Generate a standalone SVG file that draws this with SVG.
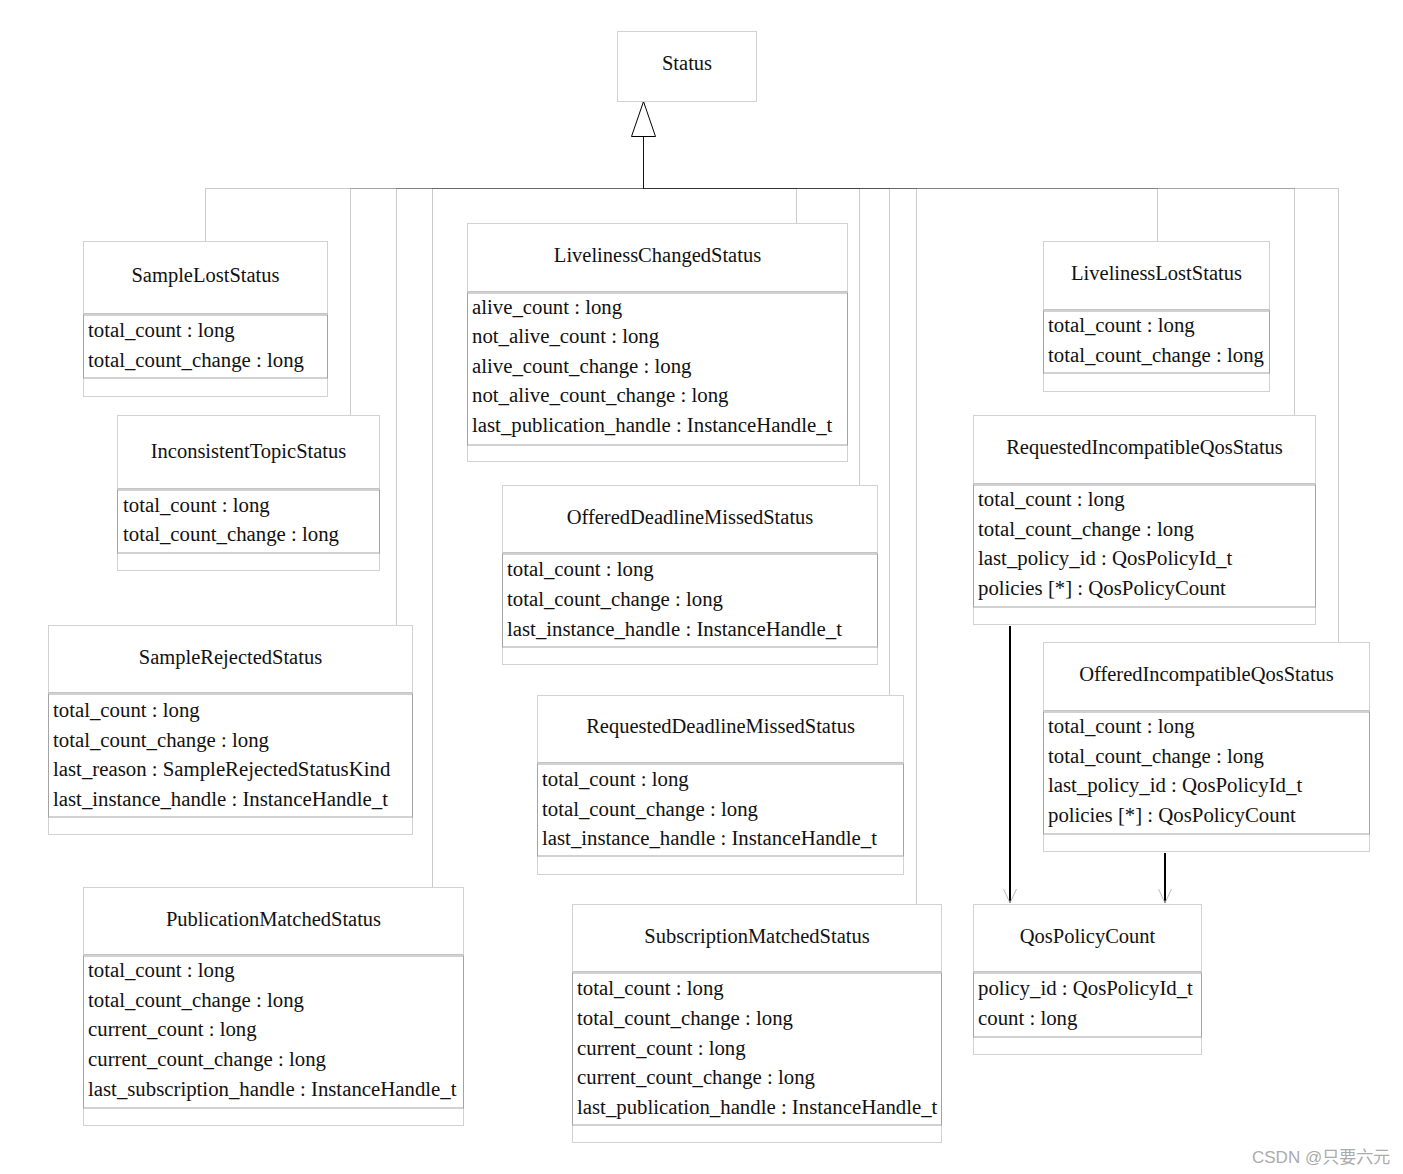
<svg xmlns="http://www.w3.org/2000/svg" width="1403" height="1174" viewBox="0 0 1403 1174">
<style>
.bg{fill:#fff}
.outer{fill:#fff;stroke:#d2d2d2;stroke-width:1}
.hdr{stroke:#c4c4c4;stroke-width:1.2}
.attr{fill:none;stroke:#a4a4a4;stroke-width:1}
.t{font-family:"Liberation Serif","Times New Roman",serif;font-size:20.5px;fill:#111;text-anchor:middle}
.a{font-family:"Liberation Serif","Times New Roman",serif;font-size:20.8px;fill:#111}
.gen{fill:none;stroke:#000;stroke-opacity:0.2;stroke-width:1}
.assoc{fill:none;stroke:#000;stroke-width:2}
.head{fill:none;stroke:#bbb;stroke-width:1}
.wm{font-family:"Liberation Sans","Noto Sans CJK SC",sans-serif;font-size:17px;fill:#ababab}
</style>
<rect class="bg" x="0" y="0" width="1403" height="1174"/>

<g id="connectors">
  <path class="gen" d="M205.5,241 V188.5 H643.5 V137"/>
  <path class="gen" d="M350.5,415 V188.5 H643.5 V137"/>
  <path class="gen" d="M396.5,625 V188.5 H643.5 V137"/>
  <path class="gen" d="M432.5,887 V188.5 H643.5 V137"/>
  <path class="gen" d="M796.5,223 V188.5 H643.5 V137"/>
  <path class="gen" d="M859.5,485 V188.5 H643.5 V137"/>
  <path class="gen" d="M889.5,695 V188.5 H643.5 V137"/>
  <path class="gen" d="M916.5,904 V188.5 H643.5 V137"/>
  <path class="gen" d="M1157.5,241 V188.5 H643.5 V137"/>
  <path class="gen" d="M1294.5,415 V188.5 H643.5 V137"/>
  <path class="gen" d="M1338.5,642 V188.5 H643.5 V137"/>
  <polygon points="643.5,101.5 631.5,136.5 655.5,136.5" fill="#fff" stroke="#000" stroke-width="1"/>
  <line class="assoc" x1="1010" y1="626" x2="1010" y2="903"/>
  <polyline class="head" points="1003.5,889 1010,903 1016.5,889"/>
  <line class="assoc" x1="1165" y1="853" x2="1165" y2="903"/>
  <polyline class="head" points="1158.5,889 1165,903 1171.5,889"/>
</g>

<g id="Status">
  <rect class="outer" x="617.5" y="31.5" width="139" height="70"/>
  <text class="t" x="687" y="70">Status</text>
</g>

<g id="SampleLostStatus">
  <rect class="outer" x="83.5" y="241.5" width="244" height="155"/>
  <line class="hdr" x1="83.5" y1="313.5" x2="327.5" y2="313.5"/>
  <rect class="attr" x="83.5" y="315" width="244" height="63"/>
  <text class="t" x="205.5" y="282">SampleLostStatus</text>
  <text class="a" x="88" y="337">total_count : long</text>
  <text class="a" x="88" y="367">total_count_change : long</text>
</g>

<g id="InconsistentTopicStatus">
  <rect class="outer" x="117.5" y="415.5" width="262" height="155"/>
  <line class="hdr" x1="117.5" y1="488.5" x2="379.5" y2="488.5"/>
  <rect class="attr" x="117.5" y="490" width="262" height="63"/>
  <text class="t" x="248.5" y="458">InconsistentTopicStatus</text>
  <text class="a" x="123" y="512">total_count : long</text>
  <text class="a" x="123" y="541">total_count_change : long</text>
</g>

<g id="SampleRejectedStatus">
  <rect class="outer" x="48.5" y="625.5" width="364" height="209"/>
  <line class="hdr" x1="48.5" y1="692.5" x2="412.5" y2="692.5"/>
  <rect class="attr" x="48.5" y="694" width="364" height="123"/>
  <text class="t" x="230.5" y="664">SampleRejectedStatus</text>
  <text class="a" x="53" y="717">total_count : long</text>
  <text class="a" x="53" y="746.5">total_count_change : long</text>
  <text class="a" x="53" y="776">last_reason : SampleRejectedStatusKind</text>
  <text class="a" x="53" y="805.5">last_instance_handle : InstanceHandle_t</text>
</g>

<g id="PublicationMatchedStatus">
  <rect class="outer" x="83.5" y="887.5" width="380" height="238"/>
  <line class="hdr" x1="83.5" y1="954.5" x2="463.5" y2="954.5"/>
  <rect class="attr" x="83.5" y="956" width="380" height="152"/>
  <text class="t" x="273.5" y="926">PublicationMatchedStatus</text>
  <text class="a" x="88" y="977">total_count : long</text>
  <text class="a" x="88" y="1006.5">total_count_change : long</text>
  <text class="a" x="88" y="1036">current_count : long</text>
  <text class="a" x="88" y="1065.5">current_count_change : long</text>
  <text class="a" x="88" y="1095.5">last_subscription_handle : InstanceHandle_t</text>
</g>

<g id="LivelinessChangedStatus">
  <rect class="outer" x="467.5" y="223.5" width="380" height="238"/>
  <line class="hdr" x1="467.5" y1="291.5" x2="847.5" y2="291.5"/>
  <rect class="attr" x="467.5" y="293" width="380" height="152"/>
  <text class="t" x="657.5" y="262">LivelinessChangedStatus</text>
  <text class="a" x="472" y="313.5">alive_count : long</text>
  <text class="a" x="472" y="343">not_alive_count : long</text>
  <text class="a" x="472" y="372.5">alive_count_change : long</text>
  <text class="a" x="472" y="402">not_alive_count_change : long</text>
  <text class="a" x="472" y="431.5">last_publication_handle : InstanceHandle_t</text>
</g>

<g id="OfferedDeadlineMissedStatus">
  <rect class="outer" x="502.5" y="485.5" width="375" height="179"/>
  <line class="hdr" x1="502.5" y1="552.5" x2="877.5" y2="552.5"/>
  <rect class="attr" x="502.5" y="554" width="375" height="93"/>
  <text class="t" x="690" y="524">OfferedDeadlineMissedStatus</text>
  <text class="a" x="507" y="576">total_count : long</text>
  <text class="a" x="507" y="606">total_count_change : long</text>
  <text class="a" x="507" y="635.5">last_instance_handle : InstanceHandle_t</text>
</g>

<g id="RequestedDeadlineMissedStatus">
  <rect class="outer" x="537.5" y="695.5" width="366" height="179"/>
  <line class="hdr" x1="537.5" y1="762.5" x2="903.5" y2="762.5"/>
  <rect class="attr" x="537.5" y="764" width="366" height="92"/>
  <text class="t" x="720.5" y="733">RequestedDeadlineMissedStatus</text>
  <text class="a" x="542" y="786">total_count : long</text>
  <text class="a" x="542" y="815.5">total_count_change : long</text>
  <text class="a" x="542" y="845">last_instance_handle : InstanceHandle_t</text>
</g>

<g id="SubscriptionMatchedStatus">
  <rect class="outer" x="572.5" y="904.5" width="369" height="238"/>
  <line class="hdr" x1="572.5" y1="971.5" x2="941.5" y2="971.5"/>
  <rect class="attr" x="572.5" y="973" width="369" height="152"/>
  <text class="t" x="757" y="943">SubscriptionMatchedStatus</text>
  <text class="a" x="577" y="995">total_count : long</text>
  <text class="a" x="577" y="1025">total_count_change : long</text>
  <text class="a" x="577" y="1054.5">current_count : long</text>
  <text class="a" x="577" y="1084">current_count_change : long</text>
  <text class="a" x="577" y="1114">last_publication_handle : InstanceHandle_t</text>
</g>

<g id="LivelinessLostStatus">
  <rect class="outer" x="1043.5" y="241.5" width="226" height="150"/>
  <line class="hdr" x1="1043.5" y1="309.5" x2="1269.5" y2="309.5"/>
  <rect class="attr" x="1043.5" y="311" width="226" height="62"/>
  <text class="t" x="1156.5" y="280">LivelinessLostStatus</text>
  <text class="a" x="1048" y="332">total_count : long</text>
  <text class="a" x="1048" y="361.5">total_count_change : long</text>
</g>

<g id="RequestedIncompatibleQosStatus">
  <rect class="outer" x="973.5" y="415.5" width="342" height="209"/>
  <line class="hdr" x1="973.5" y1="483.5" x2="1315.5" y2="483.5"/>
  <rect class="attr" x="973.5" y="485" width="342" height="122"/>
  <text class="t" x="1144.5" y="454">RequestedIncompatibleQosStatus</text>
  <text class="a" x="978" y="506">total_count : long</text>
  <text class="a" x="978" y="535.5">total_count_change : long</text>
  <text class="a" x="978" y="565">last_policy_id : QosPolicyId_t</text>
  <text class="a" x="978" y="594.5">policies [*] : QosPolicyCount</text>
</g>

<g id="OfferedIncompatibleQosStatus">
  <rect class="outer" x="1043.5" y="642.5" width="326" height="209"/>
  <line class="hdr" x1="1043.5" y1="710.5" x2="1369.5" y2="710.5"/>
  <rect class="attr" x="1043.5" y="712" width="326" height="122"/>
  <text class="t" x="1206.5" y="681">OfferedIncompatibleQosStatus</text>
  <text class="a" x="1048" y="733">total_count : long</text>
  <text class="a" x="1048" y="762.5">total_count_change : long</text>
  <text class="a" x="1048" y="792">last_policy_id : QosPolicyId_t</text>
  <text class="a" x="1048" y="821.5">policies [*] : QosPolicyCount</text>
</g>

<g id="QosPolicyCount">
  <rect class="outer" x="973.5" y="904.5" width="228" height="150"/>
  <line class="hdr" x1="973.5" y1="971.5" x2="1201.5" y2="971.5"/>
  <rect class="attr" x="973.5" y="973" width="228" height="64"/>
  <text class="t" x="1087.5" y="943">QosPolicyCount</text>
  <text class="a" x="978" y="995">policy_id : QosPolicyId_t</text>
  <text class="a" x="978" y="1024.5">count : long</text>
</g>

<text class="wm" x="1252" y="1163">CSDN @只要六元</text>
</svg>
